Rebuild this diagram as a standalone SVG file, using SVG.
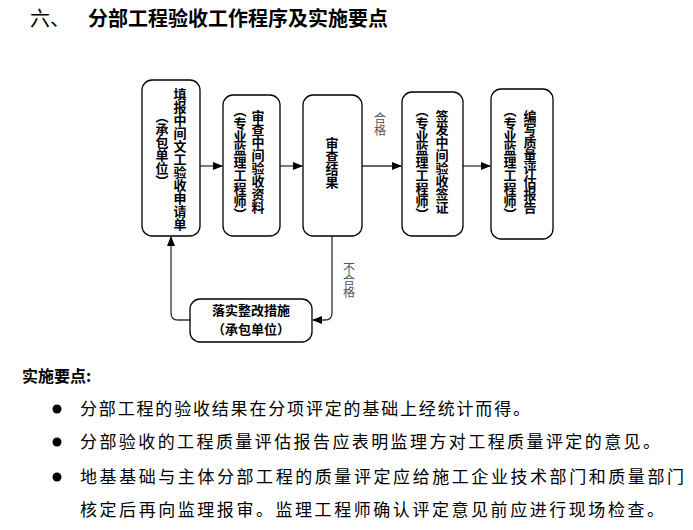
<svg xmlns="http://www.w3.org/2000/svg" width="693" height="530" viewBox="0 0 693 530">
<style>
text{font-family:"Noto Sans CJK SC","Liberation Serif",serif;fill:#000}
.v{writing-mode:vertical-rl;font-size:13px;font-weight:bold;text-anchor:start}
.lab{writing-mode:vertical-rl;font-size:12px;fill:#555;text-anchor:start}
.box{fill:#fff;stroke:#000;stroke-width:1.3}
.ln{fill:none;stroke:#333;stroke-width:1.3}
.body{font-size:17px}
</style>
<defs><marker id="a" markerWidth="10" markerHeight="8" refX="9" refY="4" orient="auto" markerUnits="userSpaceOnUse"><path d="M0,0L10,4L0,8z" fill="#000"/></marker></defs>
<rect width="693" height="530" fill="#fff"/>
<text x="30" y="26" font-size="20">六、</text>
<text x="88" y="26" font-size="20" font-weight="bold">分部工程验收工作程序及实施要点</text>
<g id="connectors">
<line class="ln" x1="200" y1="166" x2="222" y2="166" marker-end="url(#a)"/>
<line class="ln" x1="280" y1="166" x2="302" y2="166" marker-end="url(#a)"/>
<line class="ln" x1="362" y1="166" x2="401" y2="166" marker-end="url(#a)"/>
<line class="ln" x1="463" y1="166" x2="490" y2="166" marker-end="url(#a)"/>
<path class="ln" d="M332,236V313Q332,320 325,320H313" marker-end="url(#a)"/>
<path class="ln" d="M190,320H178Q171,320 171,313V237" marker-end="url(#a)"/>
<text class="lab" x="380" y="112">合格</text>
<text class="lab" x="349" y="262">不合格</text>
</g>
<g id="n1"><rect class="box" x="142" y="80" width="58" height="156" rx="10"/>
<text class="v" x="180" y="88">填报中间文工验收申请单</text><text class="v" x="162" y="110">（承包单位）</text></g>
<g id="n2"><rect class="box" x="223" y="95" width="57" height="141" rx="10"/>
<text class="v" x="258" y="110">审查中间验收资料</text><text class="v" x="240" y="104">（专业监理工程师）</text></g>
<g id="n3"><rect class="box" x="303" y="95" width="59" height="141" rx="10"/>
<text class="v" x="332" y="137">审查结果</text></g>
<g id="n4"><rect class="box" x="402" y="92" width="61" height="144" rx="10"/>
<text class="v" x="442" y="110">签发中间验收签证</text><text class="v" x="422" y="104">（专业监理工程师）</text></g>
<g id="n5"><rect class="box" x="491" y="89" width="62" height="150" rx="10"/>
<text class="v" x="530" y="110">编写质量评估报告</text><text class="v" x="510" y="104">（专业监理工程师）</text></g>
<g id="n6"><rect class="box" x="190" y="299" width="122" height="43" rx="10"/>
<text x="251" y="315" font-size="13" font-weight="bold" text-anchor="middle">落实整改措施</text>
<text x="251" y="334" font-size="13" font-weight="bold" text-anchor="middle">（承包单位）</text></g>
<text x="22" y="382" font-size="16" font-weight="bold">实施要点:</text>
<g class="body">
<circle cx="57" cy="409" r="4.5"/><text class="body" x="80" y="415" textLength="450">分部工程的验收结果在分项评定的基础上经统计而得。</text>
<circle cx="57" cy="442" r="4.5"/><text class="body" x="80" y="448" textLength="580">分部验收的工程质量评估报告应表明监理方对工程质量评定的意见。</text>
<circle cx="57" cy="477" r="4.5"/><text class="body" x="80" y="483" textLength="604">地基基础与主体分部工程的质量评定应给施工企业技术部门和质量部门</text>
<text class="body" x="80" y="516" textLength="584">核定后再向监理报审。监理工程师确认评定意见前应进行现场检查。</text>
</g>
</svg>
